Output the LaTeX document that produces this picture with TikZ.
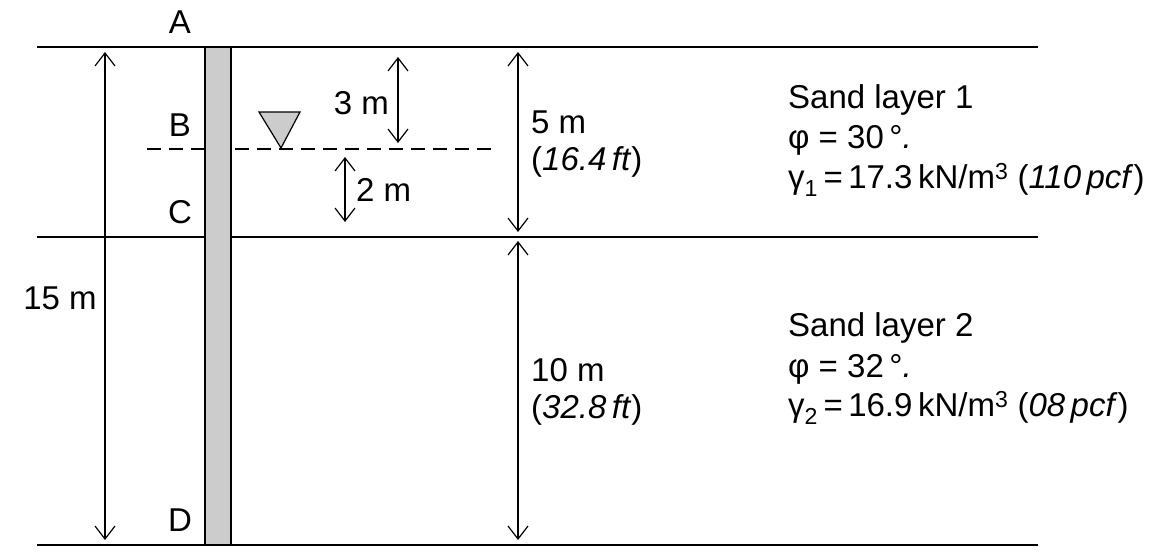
\documentclass[tikz,border=0pt]{standalone}
\usepackage{fontspec}
\setmainfont{Liberation Sans}
\usetikzlibrary{arrows.meta}
\begin{document}
\begin{tikzpicture}[x=1pt,y=-1pt,
  lbl/.style={font=\fontsize{33}{36}\selectfont, inner sep=0pt},
  dim/.style={line width=1.2pt, {Straight Barb[length=13pt,width=20pt]}-{Straight Barb[length=13pt,width=20pt]}},
  ground/.style={line width=1.6pt}]
\useasboundingbox (0,0) rectangle (1160,557);
\draw[ground] (37,47) -- (1038,47);
\draw[ground] (37,237) -- (1038,237);
\draw[ground] (37,545) -- (1038,545);
\draw[line width=1.2pt, dash pattern=on 14pt off 8pt] (147,149) -- (497,149);
\draw[line width=1.6pt, fill=black!20] (205,47) rectangle (231,545);
\draw[line width=1.2pt, fill=black!20] (259,112) -- (300,112) -- (281,148) -- cycle;
\node[lbl] (A) at (180,22) {A};
\node[lbl] (B) at (180,125) {B};
\node[lbl] (C) at (180,212) {C};
\node[lbl] (D) at (180,520) {D};
\coordinate (a15t) at (105,52); \coordinate (a15b) at (105,540);
\draw[dim] (a15t) -- (a15b);
\node[lbl] (l15) at (60,298) {15 m};
\coordinate (a3t) at (398,57); \coordinate (a3b) at (398,143);
\draw[dim] (a3t) -- (a3b);
\node[lbl, anchor=east] (l3) at (389,103) {3 m};
\coordinate (a2t) at (345,157); \coordinate (a2b) at (345,222);
\draw[dim] (a2t) -- (a2b);
\node[lbl, anchor=west] (l2) at (356,190) {2 m};
\coordinate (a5t) at (518,52); \coordinate (a5b) at (518,232);
\draw[dim] (a5t) -- (a5b);
\node[lbl, anchor=west] (l5) at (531,122) {5 m};
\node[lbl, anchor=west] (l5f) at (531,162) {(\textit{16.4\,ft})};
\coordinate (a10t) at (518,241); \coordinate (a10b) at (518,540);
\draw[dim] (a10t) -- (a10b);
\node[lbl, anchor=west] (l10) at (531,370) {10 m};
\node[lbl, anchor=west] (l10f) at (531,410) {(\textit{32.8\,ft})};
\node[lbl, anchor=west] (s1a) at (788,100) {Sand layer 1};
\node[lbl, anchor=west] (s1b) at (788,140) {φ = 30\,°\textit{.}};
\node[lbl, anchor=west] (s1c) at (788,180) {γ\textsubscript{1}\,=\,17.3\,kN/m\textsuperscript{3} (\textit{110\,pcf})};
\node[lbl, anchor=west] (s2a) at (788,328) {Sand layer 2};
\node[lbl, anchor=west] (s2b) at (788,369) {φ = 32\,°\textit{.}};
\node[lbl, anchor=west] (s2c) at (788,408) {γ\textsubscript{2}\,=\,16.9\,kN/m\textsuperscript{3} (\textit{08\,pcf})};
\end{tikzpicture}
\end{document}
